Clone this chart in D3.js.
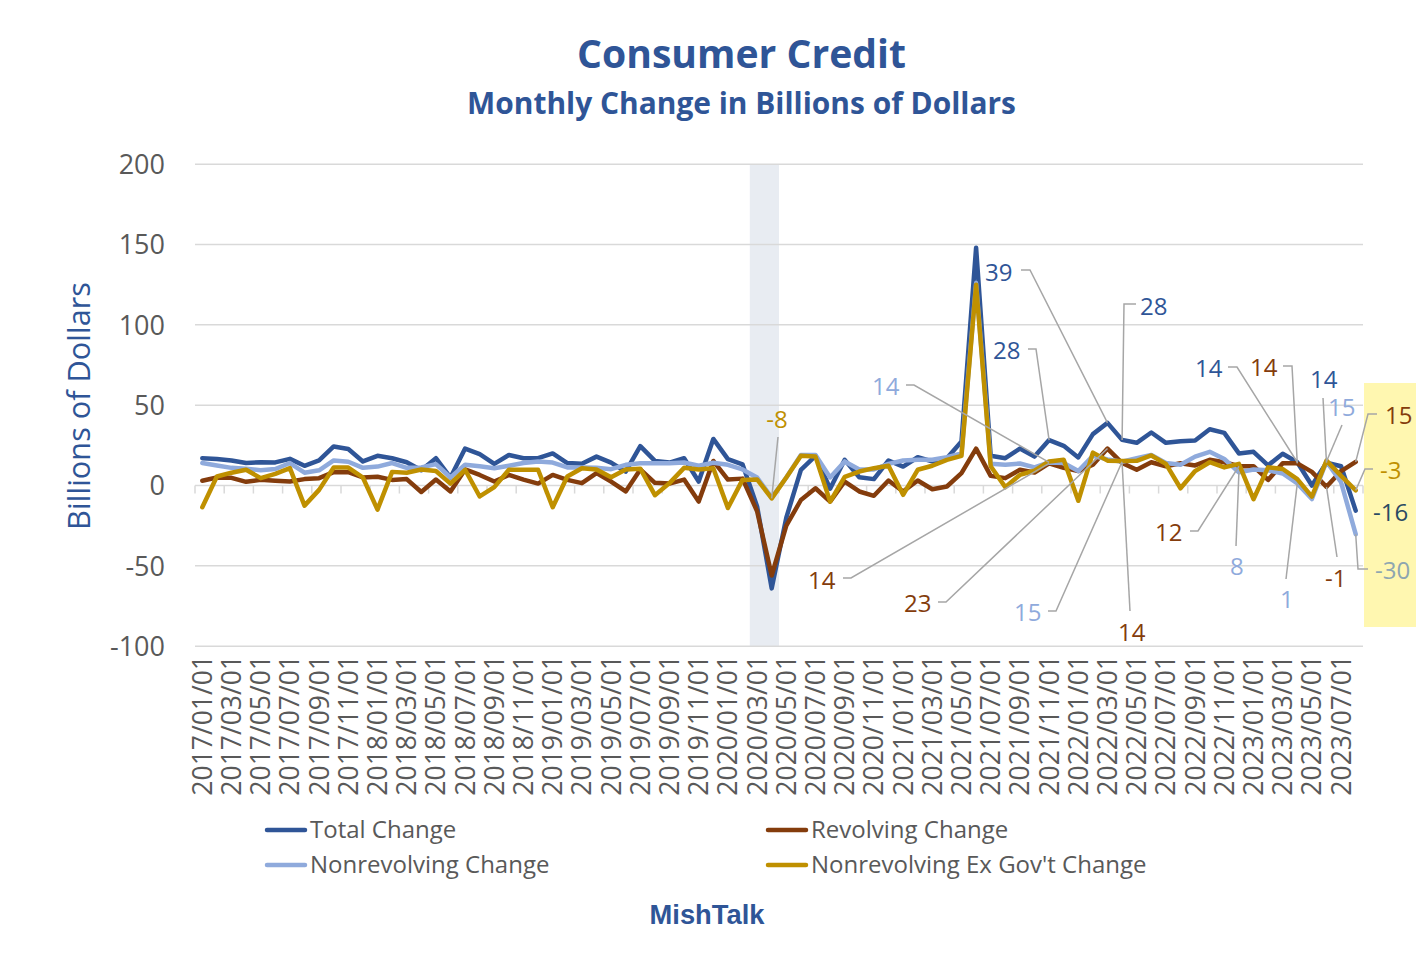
<!DOCTYPE html>
<html><head><meta charset="utf-8">
<script src="https://cdn.jsdelivr.net/npm/d3@7"></script>
<style>body{margin:0;background:#fff} svg{display:block}</style>
</head><body>
<svg id="chart" width="1422" height="960"></svg>
<script>
// ---------------- DATA ----------------
const months = [
"2017/01/01","2017/02/01","2017/03/01","2017/04/01","2017/05/01","2017/06/01","2017/07/01","2017/08/01","2017/09/01","2017/10/01","2017/11/01","2017/12/01",
"2018/01/01","2018/02/01","2018/03/01","2018/04/01","2018/05/01","2018/06/01","2018/07/01","2018/08/01","2018/09/01","2018/10/01","2018/11/01","2018/12/01",
"2019/01/01","2019/02/01","2019/03/01","2019/04/01","2019/05/01","2019/06/01","2019/07/01","2019/08/01","2019/09/01","2019/10/01","2019/11/01","2019/12/01",
"2020/01/01","2020/02/01","2020/03/01","2020/04/01","2020/05/01","2020/06/01","2020/07/01","2020/08/01","2020/09/01","2020/10/01","2020/11/01","2020/12/01",
"2021/01/01","2021/02/01","2021/03/01","2021/04/01","2021/05/01","2021/06/01","2021/07/01","2021/08/01","2021/09/01","2021/10/01","2021/11/01","2021/12/01",
"2022/01/01","2022/02/01","2022/03/01","2022/04/01","2022/05/01","2022/06/01","2022/07/01","2022/08/01","2022/09/01","2022/10/01","2022/11/01","2022/12/01",
"2023/01/01","2023/02/01","2023/03/01","2023/04/01","2023/05/01","2023/06/01","2023/07/01","2023/08/01"];

const totalChange = [17,16.5,15.6,14,14.5,14.4,16.6,12.3,15.6,24.3, 22.7,15,18.5,17,14.5,9.5,17,5,23,19.5,
 13.5,19,17,17,20,14,13.5,18,14.3,8.7, 24.5,15.3,14.3,17,2.5,29,16.4,13.2,-13,-64,
 -20,9.8,18.5,-2,16,5.2,4,15.6,11.8,17.6, 15,17,27.4,148,18.5,17,23,18,28.3,24.7,
 17.5,32,39,28.4,26.6,33,26.6,27.6,28,35, 32.8,20,21,12.6,19.8,14.5,0,14.2,12,-15.6];

const revolvingChange = [3,5,4.8,2.3,3.6,3,2.5,4,4.6,8.3, 8.3,5,5.5,3.5,4,-4,3.7,-3.7,10,6.6,
 2.5,6.6,3.7,1.2,6.6,3.5,1.5,7.7,2.5,-3.7, 10,1.7,1.2,3.7,-10,15.3,3.7,4.3,-16,-56,
 -25,-9,-1.7,-10,2.5,-3.7,-6.4,3.1,-3.7,3.1, -2.3,-0.6,7.7,23,6,4.6,9.8,8.1,13.8,11,
 9,13,23,14,9.8,14.5,12,13.9,12.5,16, 14.5,12,12,3.5,13.9,13.8,8.5,-0.8,9,14.7];

const nonrevolvingChange = [14,12.5,11,10.4,9.5,10.3,14,8,9.5,15.6, 14.8,11,11.8,14,11,11.3,13.3,5,13,12,
 10.8,12.3,14,15,14.3,11.3,11.3,11,10.2,12.9, 13.9,13.9,13.9,14.3,12.3,14.2,12.9,10,5,-7.5,
 5,19,19,5,15,10,10,13.5,15.6,16, 16,17.6,20,126,13.5,12.9,13.7,11.3,14.4,14,
 9,18.5,16.3,14.8,17,19,14,12.9,18,21, 16.5,8.2,10,9.5,7.5,1.3,-8.4,15,2,-30.3];

const nonrevExGovChange = [-13.5,5.6,8,9.8,4.6,7.3,10.8,-12.5,-2.7,11.2, 11.2,5,-15,8.5,8,10,9,1.2,9.8,-6.8,
 -1,9.8,9.8,9.8,-13.5,5.6,10.8,10,5.2,10, 10.5,-6,1.5,11,10,10.8,-14,3.5,3.8,-8,
 5,18.5,18,-10,5.4,8.7,10.8,12.3,-5.8,9.8, 12.3,16,18.5,125,12,-1,6.6,9.2,15,16,
 -9.5,20.5,15.5,15.3,15.4,18.7,13.5,-1.7,9,14.5, 11.3,13.5,-8.5,11.3,10.3,4,-6.9,15.5,6,-3];

const yTickValues = [-100,-50,0,50,100,150,200];
const recessionMonths = ["2020/03/01","2020/04/01"];

const seriesNames = ["Total Change","Revolving Change","Nonrevolving Change","Nonrevolving Ex Gov't Change"];
const seriesValues = [totalChange, revolvingChange, nonrevolvingChange, nonrevExGovChange];
const seriesColors = ["#2F5597","#843C0C","#8FAADC","#BF9000"];

// data labels: text, series index, month index
const labelTexts  = ["-8","39","28","14","14","23","15","28","14","14","14","12","8","1","14","15","-1","15","-3","-16","-30"];
const labelSeries = [3,0,0,2,1,1,2,0,1,0,1,1,2,2,0,2,1,1,3,0,2];
const labelMonth  = [39,62,58,58,58,62,63,63,63,75,75,71,71,75,77,77,77,79,79,79,79];

// ---------------- LAYOUT ----------------
const labelLayout = [
 {x:777,y:428,anchor:"middle",lead:[[778,437]]},
 {x:985,y:281,lead:[[1021,270],[1030,270]]},
 {x:993,y:359,lead:[[1028,349],[1036,349]]},
 {x:872,y:395,lead:[[906,385],[914,385]]},
 {x:808,y:589,lead:[[843,578],[851,578]]},
 {x:904,y:612,lead:[[938,602],[946,602]]},
 {x:1014,y:621,lead:[[1048,611],[1056,611]]},
 {x:1140,y:315,lead:[[1136,304],[1124,304]]},
 {x:1118,y:641,lead:[[1130,611]]},
 {x:1195,y:377,lead:[[1228,367],[1237,367]]},
 {x:1250,y:376,lead:[[1283,366],[1292,366]]},
 {x:1155,y:541,lead:[[1190,531],[1198,531]]},
 {x:1230,y:575,lead:[[1236,546]]},
 {x:1280,y:608,lead:[[1286,579]]},
 {x:1310,y:388,lead:[[1323,398]]},
 {x:1328,y:416,lead:[[1342,425]]},
 {x:1325,y:587,lead:[[1337,557]]},
 {x:1385,y:424,lead:[[1377,414],[1368,414]]},
 {x:1380,y:479,lead:[[1373,469],[1365,469]]},
 {x:1373,y:521,lead:null,color:"#2a4a63"},
 {x:1375,y:579,lead:[[1368,569],[1358,569]],color:"#8ea6b0"}
];

const FONT = "'Open Sans', 'Noto Sans', sans-serif";
const svg = d3.select('#chart');
svg.append('rect').attr('width',1422).attr('height',960).attr('fill','#fff');

const x = d3.scaleBand().domain(months).range([195,1363]).padding(0);
const y = d3.scaleLinear().domain([-100,200]).range([646.2,164.2]);
const cx = m => x(m) + x.bandwidth()/2;

function fit(sel, w){
  const l = sel.node().getComputedTextLength();
  const fs = parseFloat(sel.attr('font-size'));
  sel.attr('font-size', fs*w/l);
}

// recession band
svg.append('rect')
  .attr('x', x(recessionMonths[0]))
  .attr('width', x(recessionMonths[1]) + x.bandwidth() - x(recessionMonths[0]))
  .attr('y', y(200)).attr('height', y(-100)-y(200))
  .attr('fill','#E8ECF2');

// gridlines
svg.append('g').selectAll('line').data(yTickValues).join('line')
  .attr('x1',195).attr('x2',1363)
  .attr('y1',d=>y(d)).attr('y2',d=>y(d))
  .attr('stroke','#D9D9D9').attr('stroke-width',1.5);

// y tick labels
svg.append('g').selectAll('text').data(yTickValues).join('text')
  .attr('x',165).attr('y',d=>y(d)).attr('dy','0.36em')
  .attr('text-anchor','end').attr('font-family',FONT).attr('font-size',27)
  .attr('fill','#595959').text(d=>d);

// x axis tick marks (every 2 categories, at boundaries)
const tickIdx = d3.range(0, months.length+1, 2);
svg.append('g').selectAll('line').data(tickIdx).join('line')
  .attr('x1',i=> i<months.length ? x(months[i]) : x.range()[1])
  .attr('x2',i=> i<months.length ? x(months[i]) : x.range()[1])
  .attr('y1',y(0)).attr('y2',y(0)+8)
  .attr('stroke','#D9D9D9').attr('stroke-width',1.5);

// x labels
svg.append('g').selectAll('text').data(months.filter((m,i)=>i%2===0)).join('text')
  .attr('transform',m=>`translate(${cx(m)},655) rotate(-90)`)
  .attr('dy','0.36em').attr('text-anchor','end')
  .attr('font-family',FONT).attr('font-size',26.5).attr('fill','#595959')
  .text(m=>m);

// lines
const line = d3.line().x((d,i)=>cx(months[i])).y(d=>y(d));
svg.append('g').selectAll('path').data(seriesValues).join('path')
  .attr('d',d=>line(d)).attr('fill','none')
  .attr('stroke',(d,i)=>seriesColors[i]).attr('stroke-width',4.5)
  .attr('stroke-linejoin','round').attr('stroke-linecap','round');

// yellow highlight box
svg.append('rect').attr('x',1364).attr('y',383).attr('width',52).attr('height',244).attr('fill','#FFF7B0');

// leaders and labels
const lg = svg.append('g');
labelTexts.forEach((t,k)=>{
  const L = labelLayout[k];
  const s = labelSeries[k], m = labelMonth[k];
  const px = cx(months[m]), py = y(seriesValues[s][m]);
  if (L.lead){
    const pts = L.lead.concat([[px,py]]);
    lg.append('path').attr('d', d3.line()(pts)).attr('fill','none')
      .attr('stroke','#A6A6A6').attr('stroke-width',1.5);
  }
  lg.append('text').attr('x',L.x).attr('y',L.y)
    .attr('text-anchor',L.anchor||'start')
    .attr('font-family',FONT).attr('font-size',24)
    .attr('fill',L.color||seriesColors[s]).text(t);
});

// titles
const t1 = svg.append('text').attr('x',741.5).attr('y',68).attr('text-anchor','middle')
  .attr('font-family',FONT).attr('font-weight','bold').attr('font-size',40)
  .attr('fill','#2F5597').text('Consumer Credit');
fit(t1,329);
const t2 = svg.append('text').attr('x',741.5).attr('y',114).attr('text-anchor','middle')
  .attr('font-family',FONT).attr('font-weight','bold').attr('font-size',28)
  .attr('fill','#2F5597').text('Monthly Change in Billions of Dollars');
fit(t2,549);
const t3 = svg.append('text').attr('transform','translate(90,406) rotate(-90)').attr('text-anchor','middle')
  .attr('font-family',FONT).attr('font-size',28)
  .attr('fill','#2F5597').text('Billions of Dollars');
fit(t3,248);

// legend
const legendPos = [[267,830],[768,830],[267,865],[768,865]];
seriesNames.forEach((n,i)=>{
  const [lx,ly] = legendPos[i];
  svg.append('line').attr('x1',lx).attr('x2',lx+38).attr('y1',ly).attr('y2',ly)
    .attr('stroke',seriesColors[i]).attr('stroke-width',4.5).attr('stroke-linecap','round');
  svg.append('text').attr('x',lx+43).attr('y',ly).attr('dy','0.35em')
    .attr('font-family',FONT).attr('font-size',24).attr('fill','#595959').text(n);
});

const t4 = svg.append('text').attr('x',707).attr('y',924).attr('text-anchor','middle')
  .attr('font-family',"'Liberation Sans', Arial, sans-serif").attr('font-weight','bold').attr('font-size',26)
  .attr('fill','#2F5597').text('MishTalk');
fit(t4,115);
</script>
</body></html>
